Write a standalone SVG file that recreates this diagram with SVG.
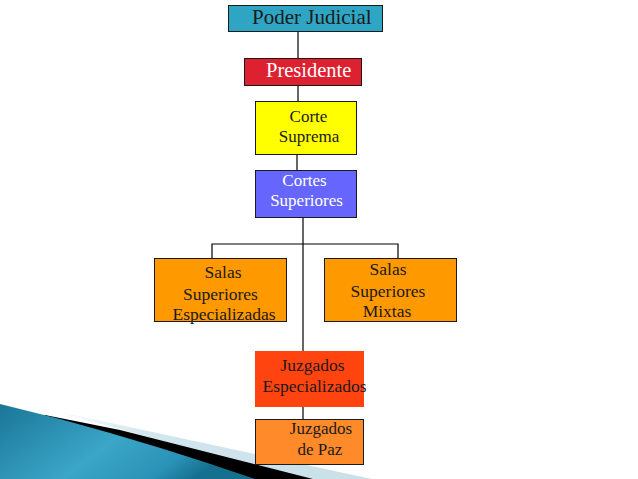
<svg xmlns="http://www.w3.org/2000/svg" width="638" height="479" viewBox="0 0 638 479">
<style>
.box{stroke:#1a1a1a;stroke-width:1}
.t{font-family:"Liberation Serif","Times New Roman",Tinos,"DejaVu Serif",serif;font-size:17.5px;fill:#1a1a1a;text-anchor:middle}
.w{fill:#ffffff}
.con{stroke:#000;stroke-width:1.2;fill:none}
</style>
<defs>
<linearGradient id="blueG" x1="0" y1="0" x2="1" y2="0.4">
<stop offset="0" stop-color="#1a7698"/>
<stop offset="0.55" stop-color="#3ba6c8"/>
<stop offset="0.85" stop-color="#2a92b6"/>
<stop offset="1" stop-color="#15708f"/>
</linearGradient>
<linearGradient id="paleG" x1="0" y1="0" x2="1" y2="0">
<stop offset="0" stop-color="#ffffff"/>
<stop offset="0.3" stop-color="#d2e6ee"/>
<stop offset="1" stop-color="#c9e0e8"/>
</linearGradient>
</defs>
<rect width="638" height="479" fill="#ffffff"/>
<g id="decoration">
<path d="M 50 410 L 120 425 L 250 453 L 372 479 L 300 479 Z" fill="url(#paleG)"/>
<path d="M 45 415 L 120 430 L 250 463 L 313 479 L 220 479 L 45 418 Z" fill="#000"/>
<path d="M 0 404 L 60 419 Q 160 446 255 479 L 0 479 Z" fill="url(#blueG)"/>
</g>
<g id="connectors">
<line class="con" x1="298" y1="31" x2="298" y2="58"/>
<line class="con" x1="298" y1="85" x2="298" y2="101"/>
<line class="con" x1="297" y1="154" x2="297" y2="170"/>
<line class="con" x1="303" y1="217" x2="303" y2="351"/>
<polyline class="con" points="212,258 212,244 398,244 398,258"/>
<line class="con" x1="303" y1="407" x2="303" y2="419"/>
</g>
<g id="poder-judicial">
<rect class="box" x="228.5" y="5.5" width="154" height="26" fill="#2fa5c4"/>
<text class="t" x="252" y="24" style="font-size:21px;text-anchor:start">Poder Judicial</text>
</g>
<g id="presidente">
<rect class="box" x="244.5" y="58.5" width="117" height="27" fill="#dd2130"/>
<text class="t w" x="266" y="77" style="font-size:20.5px;text-anchor:start">Presidente</text>
</g>
<g id="corte-suprema">
<rect class="box" x="255.5" y="101.5" width="101" height="53" fill="#ffff00"/>
<text class="t" x="308.5" y="122" style="font-size:17px">Corte</text>
<text class="t" x="309" y="142" style="font-size:17px">Suprema</text>
</g>
<g id="cortes-superiores">
<rect class="box" x="255.5" y="170.5" width="101" height="47" fill="#6666ff"/>
<text class="t w" x="304.5" y="186" style="font-size:17px">Cortes</text>
<text class="t w" x="306.5" y="206" style="font-size:17px">Superiores</text>
</g>
<g id="salas-especializadas">
<rect class="box" x="154.5" y="258.5" width="132" height="63" fill="#ff9900"/>
<text class="t" x="223" y="278">Salas</text>
<text class="t" x="220.5" y="300">Superiores</text>
<text class="t" x="224" y="320">Especializadas</text>
</g>
<g id="salas-mixtas">
<rect class="box" x="324.5" y="258.5" width="132" height="63" fill="#ff9900"/>
<text class="t" x="388" y="275">Salas</text>
<text class="t" x="388" y="297">Superiores</text>
<text class="t" x="387" y="317">Mixtas</text>
</g>
<g id="juzgados-especializados">
<rect x="255" y="351" width="109" height="56" fill="#ff4410"/>
<text class="t" x="312.5" y="371">Juzgados</text>
<text class="t" x="314.5" y="392">Especializados</text>
</g>
<g id="juzgados-de-paz">
<rect class="box" x="255.5" y="419.5" width="108" height="45" fill="#ff8a2a"/>
<text class="t" x="321" y="434" style="font-size:17px">Juzgados</text>
<text class="t" x="320" y="455" style="font-size:17px">de Paz</text>
</g>
</svg>
